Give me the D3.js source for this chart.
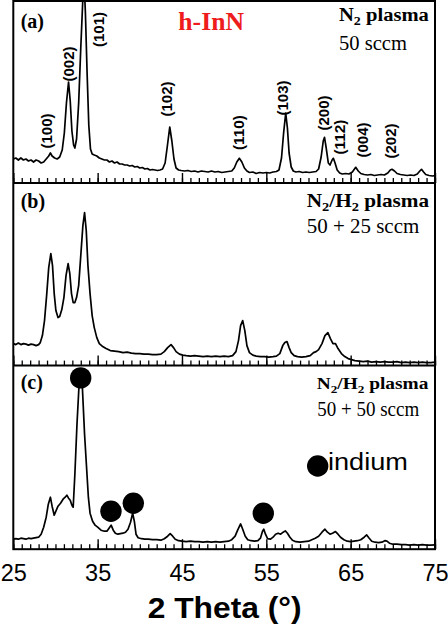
<!DOCTYPE html>
<html>
<head>
<meta charset="utf-8">
<script src="https://cdn.jsdelivr.net/npm/d3@7"></script>
<style>
  html, body { margin: 0; padding: 0; background: #fff; }
  svg { display: block; }
</style>
</head>
<body>
<div id="chart"></div>
<script>
/* h-InN XRD patterns, three plasma conditions stacked */

var xTicksMajor = [25, 35, 45, 55, 65, 75];
var xTicksMinor = d3.range(25, 76, 1);

var panelNames = ['(a)', '(b)', '(c)'];
var gasNames = [
  [['N', 0], ['2', 1], [' plasma', 0]],
  [['N', 0], ['2', 1], ['/H', 0], ['2', 1], [' plasma', 0]],
  [['N', 0], ['2', 1], ['/H', 0], ['2', 1], [' plasma', 0]]
];
var flowNames = ['50 sccm', '50 + 25 sccm', '50 + 50 sccm'];

/* [2theta, intensity a.u.] */
var seriesA = [
  [25.0,24],[25.3,25],[25.6,23],[25.9,25],[26.2,23],[26.5,24],[26.8,22],[27.1,23],[27.4,21],
  [27.7,23],[28.0,22],[28.3,20],[28.6,21],[28.9,24],[29.2,27],[29.4,30],[29.6,27],[29.9,25],
  [30.2,24],[30.5,26],[30.8,33],[31.05,50],[31.3,80],[31.55,101],[31.75,82],[31.95,52],
  [32.15,38],[32.3,35],[32.5,44],[32.75,80],[33.0,135],[33.25,185],[33.4,200],[33.55,170],
  [33.75,110],[33.95,58],[34.15,34],[34.35,29],[34.6,28],[34.9,27],[35.2,25],[35.5,24],
  [35.8,23],[36.1,23],[36.4,21],[36.7,22],[37.0,20],[37.3,21],[37.6,19],[37.9,19],[38.2,18],
  [38.5,18],[38.8,17],[39.1,17.5],[39.4,16],[39.7,16.5],[40.0,15],[40.3,15.5],[40.6,14],
  [40.9,14.5],[41.2,13],[41.5,13.5],[41.8,13],[42.1,12.5],[42.4,13],[42.7,14],[43.0,20],
  [43.25,36],[43.55,56],[43.8,42],[44.05,24],[44.3,15],[44.6,13],[44.9,12.5],[45.3,12],
  [45.7,12.5],[46.1,11.5],[46.5,12],[46.9,11],[47.3,12],[47.7,11.5],[48.1,11],[48.5,12],
  [48.9,11],[49.3,11.5],[49.7,10.5],[50.1,11],[50.5,11.5],[50.9,12],[51.2,15],[51.5,21],
  [51.8,24.7],[52.1,21],[52.4,15],[52.7,12],[53.0,10.5],[53.4,11],[53.8,9.5],[54.2,10.5],
  [54.6,10],[55.0,10.5],[55.4,10],[55.8,11],[56.2,11.5],[56.5,13],[56.8,25],[57.05,50],
  [57.3,70],[57.5,55],[57.7,30],[57.95,16],[58.2,12],[58.5,11],[58.9,11.5],[59.3,10.5],
  [59.7,11],[60.1,10.5],[60.5,11],[60.9,11.5],[61.2,14],[61.5,26],[61.75,42],[61.9,45.7],
  [62.1,35],[62.35,20],[62.55,18],[62.8,23],[62.95,24.7],[63.15,20],[63.4,13],[63.7,10],
  [64.0,9],[64.4,9.5],[64.8,9],[65.2,11],[65.6,15.7],[65.9,12],[66.2,9.5],[66.6,8.5],
  [67.0,8],[67.4,8.5],[67.8,7.5],[68.2,8],[68.6,8.5],[69.0,8],[69.4,10],[69.7,13],
  [69.9,13.7],[70.2,12],[70.5,9.5],[70.9,8.5],[71.3,8],[71.7,7.5],[72.1,8],[72.5,7.5],
  [72.9,9],[73.2,12],[73.4,13.7],[73.65,11],[73.9,8.5],[74.3,7.5],[74.7,7],[75.0,7.3]
];

var seriesB = [
  [25.0,22],[25.3,21],[25.6,22.5],[25.9,21],[26.2,22],[26.5,21.5],[26.8,20.5],[27.1,21.5],
  [27.4,21],[27.7,20],[28.0,21],[28.2,23],[28.45,30],[28.7,45],[28.95,70],[29.2,98],
  [29.45,112],[29.65,100],[29.85,72],[30.05,55],[30.3,48],[30.5,49],[30.75,56],[31.0,68],
  [31.25,90],[31.5,102],[31.7,92],[31.9,72],[32.1,63],[32.3,63],[32.5,68],[32.75,80],
  [33.0,110],[33.25,140],[33.45,153],[33.65,135],[33.85,100],[34.1,72],[34.35,50],[34.6,38],
  [34.9,28],[35.2,22],[35.6,19],[36.0,17],[36.5,15],[37.0,14.5],[37.5,14],[38.0,13],
  [38.5,13.5],[39.0,12.5],[39.5,12],[40.0,12],[40.5,11.5],[41.0,11.5],[41.5,11],[42.0,11],
  [42.5,11.5],[42.9,14],[43.3,18],[43.7,21],[44.0,18],[44.3,14],[44.7,11.5],[45.1,10.5],
  [45.5,10],[46.0,9.5],[46.5,10],[47.0,9.5],[47.5,9],[48.0,9.5],[48.5,9],[49.0,9.5],
  [49.5,9],[50.0,9.5],[50.5,9],[51.0,10],[51.4,14],[51.7,25],[51.95,40],[52.2,45],
  [52.45,35],[52.7,20],[53.0,13],[53.4,10.5],[53.8,9.5],[54.3,9],[54.8,9],[55.3,8.5],
  [55.8,9],[56.2,9.5],[56.6,12],[56.95,20],[57.2,23],[57.45,24],[57.7,18],[57.95,13],
  [58.3,10],[58.7,9],[59.2,8.5],[59.7,9],[60.2,10],[60.6,13],[60.9,14],[61.2,16],
  [61.6,22],[61.95,30],[62.3,33],[62.6,27],[62.9,22],[63.2,22],[63.5,17],[63.9,12],
  [64.3,9],[64.7,7],[65.1,6],[65.5,5],[66.0,4.5],[66.5,4],[67.0,4.5],[67.5,3.5],[68.0,4],
  [68.5,3.5],[69.0,4],[69.5,3.5],[70.0,3.5],[70.5,4],[71.0,3],[71.5,3.5],[72.0,3],
  [72.5,3.5],[73.0,3],[73.5,3.5],[74.0,3],[74.5,3],[75.0,3.5]
];

var seriesC = [
  [25.0,10],[25.3,10.5],[25.6,10],[25.9,11],[26.2,10.5],[26.5,10],[26.8,11],[27.1,10.5],
  [27.4,11],[27.7,11.5],[28.0,12],[28.3,15],[28.6,22],[28.9,32],[29.15,45],[29.4,52],
  [29.6,43],[29.85,34],[30.05,38],[30.3,43],[30.6,46],[30.9,50],[31.15,52],[31.35,54],
  [31.55,51],[31.75,49],[31.95,44],[32.1,42],[32.3,75],[32.55,125],[32.8,165],[33.0,176],
  [33.2,160],[33.45,115],[33.7,80],[33.9,52],[34.1,36],[34.4,28],[34.7,24],[35.0,22],
  [35.4,19],[35.8,18],[36.1,18],[36.35,21],[36.6,24],[36.85,19],[37.1,16],[37.4,15],
  [37.7,15.5],[38.0,16],[38.3,17],[38.6,20],[38.9,27],[39.15,36],[39.35,28],[39.55,15],
  [39.8,11.5],[40.2,10.5],[40.6,10],[41.0,10],[41.5,9.5],[42.0,9.5],[42.5,9],[42.9,10.5],
  [43.3,13],[43.6,15.5],[43.9,13],[44.2,10],[44.6,8.5],[45.0,8],[45.5,7.5],[46.0,8],
  [46.5,7.5],[47.0,7.5],[47.5,7],[48.0,7.5],[48.5,7],[49.0,7.5],[49.5,7],[50.0,7.5],
  [50.5,8],[50.9,9.5],[51.3,13],[51.6,19],[51.95,25.3],[52.2,20],[52.5,13],[52.8,9.5],
  [53.2,8.5],[53.6,8],[54.0,8.5],[54.3,11],[54.55,18],[54.7,20],[54.9,15],[55.15,10.5],
  [55.5,10],[55.8,12],[56.1,15],[56.4,16],[56.7,15],[57.0,17],[57.25,18.3],[57.5,16],
  [57.8,12],[58.1,9],[58.5,7.5],[59.0,7],[59.5,7.5],[60.0,8],[60.4,9.5],[60.8,11],
  [61.2,13],[61.6,17],[61.95,20],[62.25,17],[62.55,15],[62.85,16],[63.2,17.6],[63.5,15],
  [63.8,12],[64.2,9.5],[64.6,8],[65.0,7.5],[65.4,8],[65.8,8.5],[66.2,9.5],[66.6,12],
  [66.9,14.3],[67.2,11],[67.5,8],[67.9,7],[68.3,6.5],[68.7,7],[69.05,8.5],[69.3,8],
  [69.6,6],[70.0,5],[70.5,5],[71.0,4.5],[71.5,4.5],[72.0,4],[72.5,4.5],[73.0,4],
  [73.5,4.5],[74.0,4],[74.5,4],[75.0,4.3]
];

/* reflection labels for panel (a): text, 2theta of label centre, height of label centre */
var hklNames = ['(100)', '(002)', '(101)', '(102)', '(110)', '(103)', '(200)', '(112)', '(004)', '(202)'];
var hklTheta = [28.96, 31.60, 35.16, 43.19, 51.68, 56.94, 61.78, 63.74, 66.43, 69.75];
var hklLevel = [52, 119, 153.5, 84, 50.5, 85, 70, 46, 43, 42];

/* indium reflections marked in panel (c): [2theta, intensity] */
var indiumPeaks = [[32.99, 171.3], [36.58, 37.9], [39.23, 45.9], [54.64, 35.9]];

(function drawXrd() {
  var W = 448, H = 625;
  var left = 13.3, right = 435;
  var edges = [1, 183, 365.6, 549.2];
  var SERIF = '"Times New Roman", "Liberation Serif", serif';
  var SANS = 'Arial, "Liberation Sans", sans-serif';
  var series = [seriesA, seriesB, seriesC];

  var svg = d3.select('#chart').append('svg')
    .attr('width', W).attr('height', H);

  var x = d3.scaleLinear().domain([25, 75]).range([left, right]);

  /* stretch text horizontally to a measured width, anchored at its start */
  function fitText(t, px, py, width) {
    var w = t.node().getComputedTextLength();
    var sx = w > 0 ? width / w : 1;
    t.attr('transform', 'translate(' + px + ',' + py + ') scale(' + sx + ',1)');
  }

  function subText(g, segs, px, py, size, width) {
    var t = g.append('text')
      .attr('font-family', SERIF).attr('font-weight', 'bold')
      .attr('font-size', size).attr('fill', '#000');
    var shifted = false;
    segs.forEach(function (s) {
      var sp = t.append('tspan').text(s[0]);
      if (s[1]) {
        sp.attr('font-size', size * 0.68).attr('dy', size * 0.22);
        shifted = true;
      } else if (shifted) {
        sp.attr('dy', -size * 0.22);
        shifted = false;
      }
    });
    fitText(t, px, py, width);
    return t;
  }

  var gasPos = [[339, 20.7, 19, 90], [306.7, 206.7, 18, 122.6], [316.7, 389, 16.5, 111.7]];
  var flowPos = [[339, 50, 20, 68], [306.7, 233.3, 22, 112.6], [317.3, 416, 20.5, 102]];
  var letterY = [27.7, 208, 389];

  series.forEach(function (data, i) {
    var bottom = edges[i + 1];
    var y = d3.scaleLinear().domain([0, 180]).range([bottom, bottom - 180]);
    var g = svg.append('g');

    /* inward ticks on the lower edge of each panel */
    g.append('g')
      .attr('transform', 'translate(0,' + bottom + ')')
      .call(d3.axisTop(x).tickValues(xTicksMinor).tickSize(5).tickFormat(''))
      .call(function (a) {
        a.select('.domain').remove();
        a.selectAll('line').attr('stroke', '#000').attr('stroke-width', 1.3);
      });
    g.append('g')
      .attr('transform', 'translate(0,' + bottom + ')')
      .call(d3.axisTop(x).tickValues(xTicksMajor).tickSize(10).tickFormat(''))
      .call(function (a) {
        a.select('.domain').remove();
        a.selectAll('line').attr('stroke', '#000').attr('stroke-width', 1.4);
      });

    var line = d3.line()
      .x(function (d) { return x(d[0]); })
      .y(function (d) { return y(d[1]); });

    g.append('path')
      .datum(data)
      .attr('d', line)
      .attr('fill', 'none')
      .attr('stroke', '#000')
      .attr('stroke-width', 1.7)
      .attr('stroke-linejoin', 'round');

    /* panel letter */
    g.append('text')
      .attr('x', 20.7).attr('y', letterY[i])
      .attr('font-family', SERIF).attr('font-weight', 'bold')
      .attr('font-size', 20).text(panelNames[i]);

    /* plasma condition */
    subText(g, gasNames[i], gasPos[i][0], gasPos[i][1], gasPos[i][2], gasPos[i][3]);
    var ft = g.append('text')
      .attr('font-family', SERIF).attr('font-size', flowPos[i][2])
      .text(flowNames[i]);
    fitText(ft, flowPos[i][0], flowPos[i][1], flowPos[i][3]);

    if (i === 0) {
      hklNames.forEach(function (name, k) {
        g.append('text')
          .attr('transform', 'translate(' + x(hklTheta[k]) + ',' + y(hklLevel[k]) + ') rotate(-90)')
          .attr('text-anchor', 'middle').attr('dy', '0.36em')
          .attr('font-family', SANS).attr('font-weight', 'bold')
          .attr('font-size', 15)
          .attr('textLength', 35).attr('lengthAdjust', 'spacingAndGlyphs')
          .text(name);
      });
      var tag = g.append('text')
        .attr('font-family', SERIF).attr('font-weight', 'bold')
        .attr('font-size', 25).attr('fill', '#ee1c1c')
        .text('h-InN');
      fitText(tag, 178.3, 30, 65.7);
    }

    if (i === 2) {
      g.selectAll('circle.in')
        .data(indiumPeaks).enter()
        .append('circle')
        .attr('class', 'in')
        .attr('cx', function (d) { return x(d[0]); })
        .attr('cy', function (d) { return y(d[1]); })
        .attr('r', 10.7)
        .attr('fill', '#000');

      /* legend */
      g.append('circle')
        .attr('cx', 317.7).attr('cy', 466).attr('r', 10.7).attr('fill', '#000');
      var lt = g.append('text')
        .attr('font-family', SANS).attr('font-size', 24)
        .text('indium');
      fitText(lt, 328, 470, 80);
    }
  });

  /* frame and panel dividers */
  svg.append('rect')
    .attr('x', left).attr('y', edges[0])
    .attr('width', right - left).attr('height', edges[3] - edges[0])
    .attr('fill', 'none').attr('stroke', '#000').attr('stroke-width', 2);
  [edges[1], edges[2]].forEach(function (ey) {
    svg.append('line')
      .attr('x1', left).attr('x2', right)
      .attr('y1', ey).attr('y2', ey)
      .attr('stroke', '#000').attr('stroke-width', 2);
  });

  /* bottom tick labels */
  svg.append('g')
    .attr('transform', 'translate(0,' + edges[3] + ')')
    .call(d3.axisBottom(x).tickValues(xTicksMajor).tickSize(0))
    .call(function (a) {
      a.select('.domain').remove();
      a.selectAll('text')
        .attr('y', 31.5).attr('dy', 0)
        .attr('font-family', SANS).attr('font-size', 23.5)
        .attr('fill', '#000');
    });

  var xt = svg.append('text')
    .attr('font-family', SANS).attr('font-weight', 'bold')
    .attr('font-size', 29)
    .text('2 Theta (\u00B0)');
  fitText(xt, 147.7, 617.7, 154);
}());
</script>
</body>
</html>
